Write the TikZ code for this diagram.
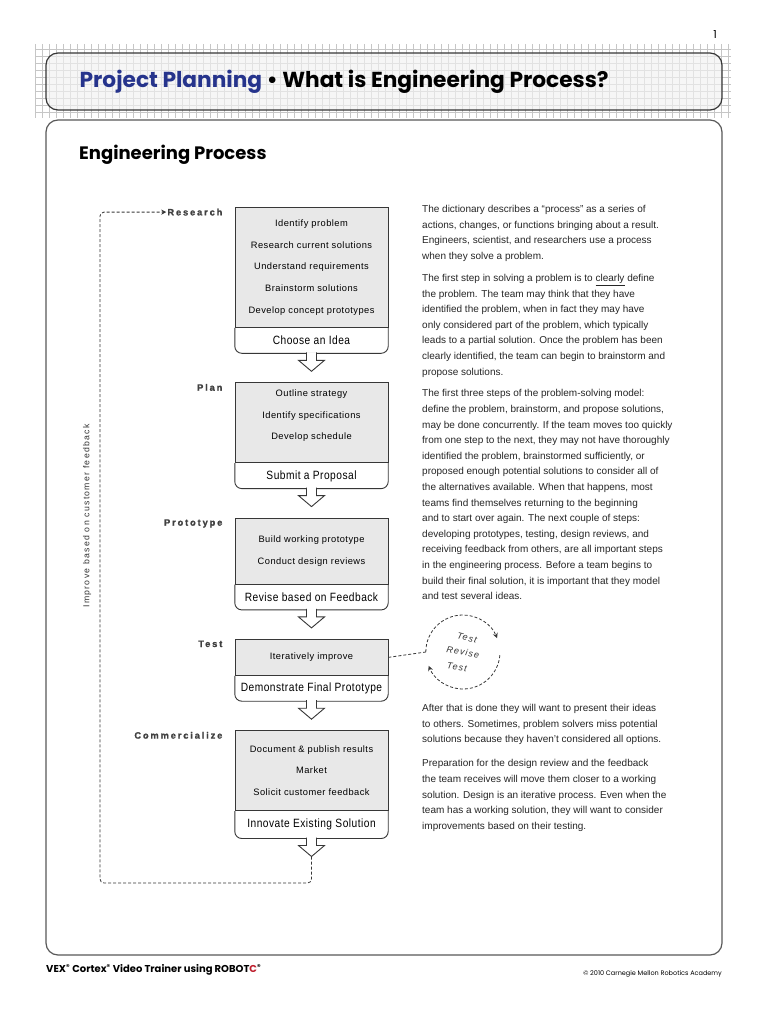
\documentclass[tikz,border=0pt]{standalone}
\usepackage{fontspec}
\setmainfont{Liberation Sans}
\newfontfamily\titlefont{Poppins}
\newfontfamily\itemfont[LetterSpace=5]{Liberation Sans}
\newfontfamily\tabfont[FakeStretch=0.85,LetterSpace=4]{Liberation Sans}
\newfontfamily\stagefont[LetterSpace=20,FakeBold=1.2]{Liberation Sans Bold}
\newfontfamily\sidefont[LetterSpace=15]{Liberation Sans}
\newfontfamily\cyclefont[LetterSpace=12]{Liberation Sans}
\usetikzlibrary{positioning,arrows.meta}
\definecolor{titleblue}{RGB}{38,52,140}
\definecolor{boxgray}{RGB}{232,232,232}
\definecolor{linegray}{RGB}{55,55,55}
\definecolor{robotred}{RGB}{190,30,45}

\begin{document}
\begin{tikzpicture}
    [
        x = 1pt, y = 1pt,
        stepbox/.style    = {shape=rectangle, draw=linegray, fill=boxgray, line width=0.9pt, minimum width=153pt, inner sep=0pt, align=center, font=\itemfont\fontsize{9.3}{21.7}\selectfont},
        tabbox/.style     = {shape=rectangle, minimum width=153pt, minimum height=25pt, inner sep=0pt, font=\tabfont\fontsize{12}{14}\selectfont},
        tabline/.style    = {draw=linegray, line width=0.9pt},
        stagelabel/.style = {anchor=north east, inner sep=0pt, text=black!75, font=\stagefont\fontsize{9.3}{10}\selectfont},
        para/.style       = {anchor=north west, inner sep=0pt, align=left, text=black!85, font=\fontsize{10}{15.6}\selectfont},
        dashedline/.style = {draw=linegray, line width=0.8pt, dash pattern=on 3pt off 2pt},
        cycletext/.style  = {inner sep=0pt, text=black!80, font=\cyclefont\itshape\fontsize{9}{10}\selectfont},
        frame/.style      = {shape=rectangle, rounded corners=12pt, line width=1.2pt},
    ]
    \fill [white] (0,0) rectangle (768,-1024);
    \useasboundingbox (0,0) rectangle (768,-1024);

    % header strip
    \draw [gray!45, line width=0.4pt, step=7pt] (35,-44) grid (731,-118);
    \node [frame, draw=linegray, fill=gray!10, fill opacity=0.65, minimum width=676pt, minimum height=57pt] (header) at (384,-81.5) {};
    \node [anchor=west, inner sep=0pt, font=\titlefont\bfseries\fontsize{21.7}{25}\selectfont] (title) at ([xshift=34pt]header.west)
        {\textcolor{titleblue}{Project Planning} \textbullet\ What is Engineering Process?};
    \node [font=\titlefont\fontsize{11}{12}\selectfont] (pagenum) at (715,-35) {1};

    \node [frame, draw=gray!70!black, minimum width=676pt, minimum height=835pt] (panel) at (384,-537.5) {};
    \node [anchor=west, inner sep=0pt, font=\titlefont\bfseries\fontsize{18}{20}\selectfont] (heading) at (79,-155) {Engineering Process};

    % process steps
    \node [stepbox, minimum height=120pt, anchor=north] (research) at (311.5,-207)
        {Identify problem\\ Research current solutions\\ Understand requirements\\ Brainstorm solutions\\ Develop concept prototypes};
    \node [tabbox, below=0pt of research] (research-tab) {Choose an Idea};
    \node [stagelabel] (researchlbl) at ([xshift=-12pt, yshift=-1.5pt]research.north west) {Research};

    \node [stepbox, minimum height=80pt, below=29pt of research-tab] (plan)
        {Outline strategy\\ Identify specifications\\ Develop schedule\rule[-16pt]{0pt}{0pt}};
    \node [tabbox, below=0pt of plan] (plan-tab) {Submit a Proposal};
    \node [stagelabel] (planlbl) at ([xshift=-12pt, yshift=-1.5pt]plan.north west) {Plan};

    \node [stepbox, minimum height=66pt, below=29pt of plan-tab] (proto)
        {Build working prototype\\ Conduct design reviews};
    \node [tabbox, below=0pt of proto] (proto-tab) {Revise based on Feedback};
    \node [stagelabel] (protolbl) at ([xshift=-12pt, yshift=-1.5pt]proto.north west) {Prototype};

    \node [stepbox, minimum height=36pt, below=29pt of proto-tab] (test) {Iteratively improve};
    \node [tabbox, below=0pt of test] (test-tab) {Demonstrate Final Prototype};
    \node [stagelabel] (testlbl) at ([xshift=-12pt, yshift=-1.5pt]test.north west) {Test};

    \node [stepbox, minimum height=80pt, below=29pt of test-tab] (market)
        {Document \& publish results\\ Market\\ Solicit customer feedback};
    \node [tabbox, minimum height=27pt, below=0pt of market] (market-tab) {Innovate Existing Solution};
    \node [stagelabel] (marketlbl) at ([xshift=-12pt, yshift=-1.5pt]market.north west) {Commercialize};

    \foreach \s in {research, plan, proto, test, market} {
        \draw [tabline, rounded corners=7pt] (\s-tab.north west) -- (\s-tab.south west) -- (\s-tab.south east) -- (\s-tab.north east);
        \draw [tabline, fill=white] ([xshift=-5pt, yshift=1pt]\s-tab.south) -- ++(0,-8) -- ++(-8,0) -- ++(13,-11) -- ++(13,11) -- ++(-8,0) -- ++(0,8);
    }

    % feedback loop
    \coordinate (markettip) at ([yshift=-18pt]market-tab.south);
    \coordinate (loopcorner) at (100,-883);
    \draw [dashedline, rounded corners=4pt, -{Stealth[length=5pt, width=5pt]}] (markettip) |- (loopcorner) |- ([xshift=-1pt]researchlbl.west);
    \node [rotate=90, text=black!80, font=\sidefont\fontsize{8.7}{10}\selectfont] (feedbacklbl) at (87,-516) {Improve based on customer feedback};

    % test cycle
    \node [circle, minimum size=74pt, inner sep=0pt] (cycle) at (463,-652) {};
    \draw [dashedline] (test.east) -- (cycle.west);
    \draw [dashedline, -{Stealth[length=5pt, width=5pt]}] (cycle.west) arc [start angle=180, end angle=22, radius=37pt];
    \draw [dashedline, -{Stealth[length=5pt, width=5pt]}] ([shift={(-5:37pt)}]cycle.center) arc [start angle=-5, end angle=-158, radius=37pt];
    \node [cycletext, rotate=-14] (cycletop) at (467,-638) {Test};
    \node [cycletext, rotate=-10] (cyclemid) at (463,-652) {Revise};
    \node [cycletext, rotate=-8] (cyclebot) at (457,-667) {Test};

    % text column
    \node [para] (intro) at (422,-205)
        {The dictionary describes a “process” as a series of\\
         actions, changes, or functions bringing about a result.\\
         Engineers, scientist, and researchers use a process\\
         when they solve a problem.};
    \node [para] (firststep) at (422,-274)
        {The first step in solving a problem is to \underline{clearly} define\\
         the problem. The team may think that they have\\
         identified the problem, when in fact they may have\\
         only considered part of the problem, which typically\\
         leads to a partial solution. Once the problem has been\\
         clearly identified, the team can begin to brainstorm and\\
         propose solutions.};
    \node [para] (threesteps) at (422,-389.5)
        {The first three steps of the problem-solving model:\\
         define the problem, brainstorm, and propose solutions,\\
         may be done concurrently. If the team moves too quickly\\
         from one step to the next, they may not have thoroughly\\
         identified the problem, brainstormed sufficiently, or\\
         proposed enough potential solutions to consider all of\\
         the alternatives available. When that happens, most\\
         teams find themselves returning to the beginning\\
         and to start over again. The next couple of steps:\\
         developing prototypes, testing, design reviews, and\\
         receiving feedback from others, are all important steps\\
         in the engineering process. Before a team begins to\\
         build their final solution, it is important that they model\\
         and test several ideas.};
    \node [para] (present) at (422,-704)
        {After that is done they will want to present their ideas\\
         to others. Sometimes, problem solvers miss potential\\
         solutions because they haven’t considered all options.};
    \node [para] (review) at (422,-759.5)
        {Preparation for the design review and the feedback\\
         the team receives will move them closer to a working\\
         solution. Design is an iterative process. Even when the\\
         team has a working solution, they will want to consider\\
         improvements based on their testing.};

    % footer
    \node [anchor=west, inner sep=0pt, font=\titlefont\bfseries\fontsize{10}{12}\selectfont] (footerleft) at (46,-970)
        {VEX\textsuperscript{®} Cortex\textsuperscript{®} Video Trainer using ROBOT\textcolor{robotred}{C}\textsuperscript{®}};
    \node [anchor=east, inner sep=0pt, font=\titlefont\fontsize{6.5}{8}\selectfont] (footerright) at (722,-974)
        {© 2010 Carnegie Mellon Robotics Academy};
\end{tikzpicture}
\end{document}
